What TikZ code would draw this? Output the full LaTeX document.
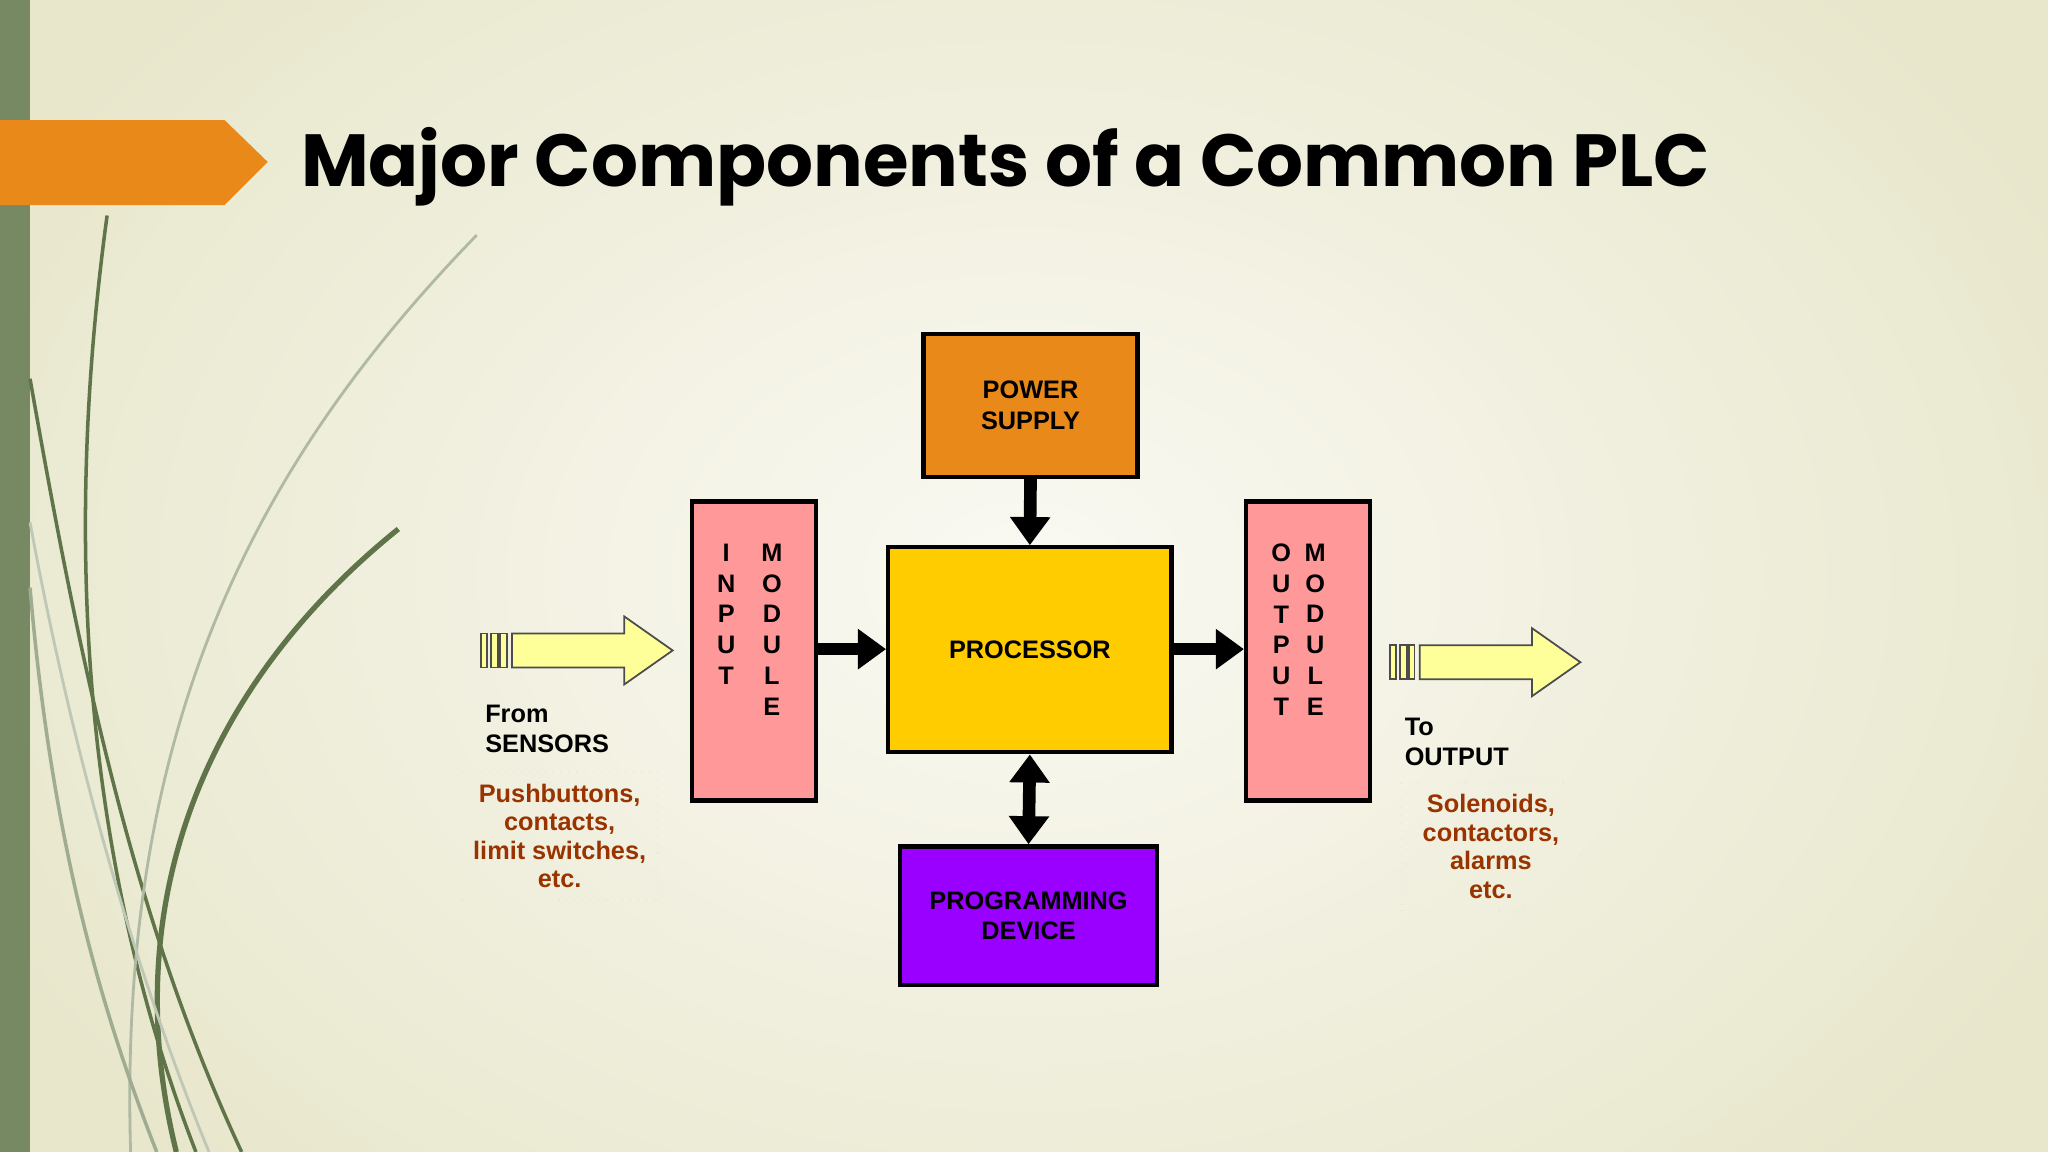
\documentclass[tikz,border=0pt]{standalone}
\usepackage{fontspec}
\setmainfont{Liberation Sans}
\newfontfamily\titlefont{Poppins}
\usetikzlibrary{arrows.meta}
\definecolor{bgin}{HTML}{FAF9F3}
\definecolor{bgout}{HTML}{E8E7CC}
\definecolor{grass}{HTML}{5F7448}
\definecolor{orangeA}{HTML}{E8891A}
\definecolor{procY}{HTML}{FFCC00}
\definecolor{modP}{HTML}{FF9999}
\definecolor{purp}{HTML}{9900FF}
\definecolor{yel}{HTML}{FFFF99}
\definecolor{brown}{HTML}{993300}
\begin{document}
\begin{tikzpicture}[x=0.01306cm,y=-0.01306cm,
  boxs/.style={draw=black,line width=1.2pt,font=\fontsize{7.2}{8.7}\selectfont\bfseries,align=center},
  blk/.style={line width=3.6pt,-{Triangle[width=11pt,length=8pt]}},
  yarrow/.style={draw=black!70,line width=0.5pt,fill=yel},
  lbl/.style={font=\fontsize{7.2}{8.7}\selectfont\bfseries,align=left,anchor=north west,inner sep=0pt},
  note/.style={font=\fontsize{7.2}{8.1}\selectfont\bfseries,text=brown,align=center,draw=black!12,dotted,line width=0.3pt},
  vt/.style={anchor=north,inner sep=0pt,font=\fontsize{7.2}{8.75}\selectfont\bfseries,align=center}]
\useasboundingbox (0,0) rectangle (1568,882);
\shade[inner color=bgin,outer color=bgout] (-100,-200) rectangle (1668,1082);
\fill[grass!85] (0,0) rectangle (23,882);
\begin{scope}[grass,line width=1pt]
\draw (82,165) .. controls (50,400) and (60,650) .. (150,882);
\draw (23,290) .. controls (60,500) and (100,700) .. (185,882);
\draw[line width=1.5pt] (305,405) .. controls (150,530) and (90,700) .. (135,882);
\draw[grass!50,line width=0.8pt] (365,180) .. controls (200,350) and (90,550) .. (100,882);
\draw[grass!40,line width=0.8pt] (23,400) .. controls (60,600) and (110,760) .. (160,882);
\draw[grass!60] (23,450) .. controls (40,650) and (80,780) .. (120,882);
\end{scope}
\fill[orangeA] (0,92) -- (172,92) -- (205,124) -- (172,157) -- (0,157) -- cycle;
\node[anchor=west,inner sep=0pt] (title) at (230,128) {\titlefont\bfseries\fontsize{21}{26}\selectfont Major Components of a Common PLC};
\node[boxs,fill=orangeA,minimum width=2.14cm,minimum height=1.424cm] (power) at (789,310.5) {POWER\\SUPPLY};
\node[boxs,fill=procY,minimum width=2.834cm,minimum height=2.05cm] (proc) at (788.5,497.5) {PROCESSOR};
\node[boxs,fill=modP,minimum width=1.24cm,minimum height=2.99cm] (inmod) at (577.5,498.5) {};
\node[boxs,fill=modP,minimum width=1.24cm,minimum height=2.99cm] (outmod) at (1001.5,498.5) {};
\node[boxs,fill=purp,minimum width=2.573cm,minimum height=1.384cm] (prog) at (787.5,701) {PROGRAMMING\\DEVICE};
\node[vt] (i1) at (556,416) {I\\N\\P\\U\\T};
\node[vt] (i2) at (591,416) {M\\O\\D\\U\\L\\E};
\node[vt] (o1) at (981,416) {O\\U\\T\\P\\U\\T};
\node[vt] (o2) at (1007,416) {M\\O\\D\\U\\L\\E};
\draw[blk] (power.south) -- (proc.north);
\draw[blk] (inmod.east |- 0,497) -- (proc.west |- 0,497);
\draw[blk] (proc.east |- 0,497) -- (outmod.west |- 0,497);
\draw[line width=3.6pt,{Triangle[width=11pt,length=8pt]}-{Triangle[width=11pt,length=8pt]}] (proc.south) -- (prog.north);
\draw[yarrow] (368,485) rectangle (373,511);
\draw[yarrow] (376,485) rectangle (381,511);
\draw[yarrow] (383,485) rectangle (388,511);
\draw[yarrow] (392,485) -- (478,485) -- (478,472) -- (515,498) -- (478,524) -- (478,511) -- (392,511) -- cycle;
\draw[yarrow] (1064,494) rectangle (1069,520);
\draw[yarrow] (1072,494) rectangle (1077,520);
\draw[yarrow] (1079,494) rectangle (1083,520);
\draw[yarrow] (1087,494) -- (1173,494) -- (1173,481) -- (1210,507) -- (1173,533) -- (1173,520) -- (1087,520) -- cycle;
\node[lbl] (from) at (371,539) {From\\SENSORS};
\node[lbl] (to) at (1075,549) {To\\OUTPUT};
\node[note,minimum width=1.79cm,minimum height=1.17cm] (n1) at (428.5,640) {Pushbuttons,\\contacts,\\limit switches,\\etc.};
\node[note,minimum width=1.79cm,minimum height=1.15cm] (n2) at (1141.5,648) {Solenoids,\\contactors,\\alarms\\etc.};
\end{tikzpicture}
\end{document}
